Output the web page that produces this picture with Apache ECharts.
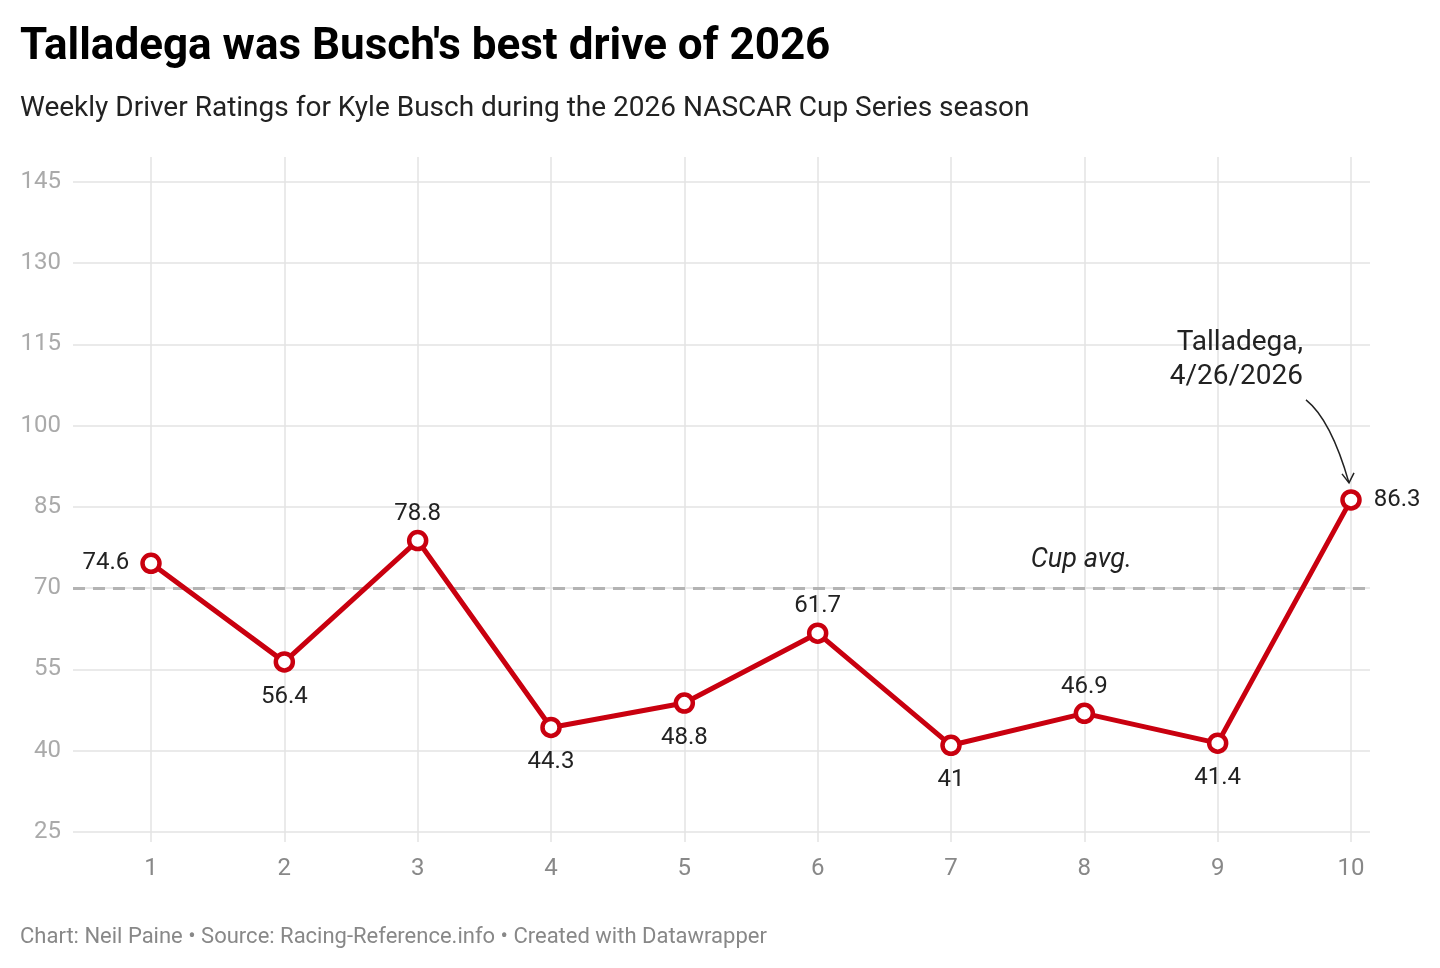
<!DOCTYPE html>
<html>
<head>
<meta charset="utf-8">
<script src="https://cdn.jsdelivr.net/npm/echarts@6/dist/echarts.min.js"></script>
<style>
  html, body { margin: 0; padding: 0; background: #fff; }
  #main { width: 1440px; height: 968px; }
</style>
</head>
<body>
<div id="main"></div>
<script>
/*数据*/
var races = [1, 2, 3, 4, 5, 6, 7, 8, 9, 10];
var ratings = [74.6, 56.4, 78.8, 44.3, 48.8, 61.7, 41, 46.9, 41.4, 86.3];
var yTicks = [25, 40, 55, 70, 85, 100, 115, 130, 145];
var cupAvg = 70;

/*标签位置*/
var labelPos = ['left', 'bottom', 'top', 'bottom', 'bottom', 'top', 'bottom', 'top', 'bottom', 'right'];
var labelDist = {left: 11, right: 12, top: 4, bottom: 12};

var red = '#c9000f';
var font = 'Roboto, "Noto Sans", sans-serif';

var chart = echarts.init(document.getElementById('main'));

var option = {
  backgroundColor: '#fff',
  animation: false,
  title: [{
    text: "Talladega was Busch's best drive of 2026",
    left: 15, top: 21,
    textStyle: {fontFamily: font, fontSize: 44, fontWeight: 'bold', color: '#000'}
  }, {
    text: 'Weekly Driver Ratings for Kyle Busch during the 2026 NASCAR Cup Series season',
    left: 15, top: 90,
    textStyle: {fontFamily: font, fontSize: 28, fontWeight: 'normal', color: '#222'}
  }, {
    text: 'Chart: Neil Paine • Source: Racing-Reference.info • Created with Datawrapper',
    left: 15, top: 921,
    textStyle: {fontFamily: font, fontSize: 22, fontWeight: 'normal', color: '#888'}
  }],
  grid: {left: 73, right: 70, top: 157, bottom: 126},
  xAxis: {
    type: 'value',
    min: 1 - 78 / 133.33,
    max: 10 + 19 / 133.33,
    axisLine: {show: false},
    axisTick: {show: false, customValues: races},
    axisLabel: {customValues: races, margin: 15, fontFamily: font, fontSize: 24, color: '#888'},
    splitLine: {show: true, lineStyle: {color: '#e3e3e3', width: 1.5}}
  },
  yAxis: {
    type: 'value',
    min: 23.15,
    max: 149.6,
    axisLine: {show: false},
    axisTick: {show: false, customValues: yTicks},
    axisLabel: {customValues: yTicks, margin: 12, padding: [4, 0, 0, 0], fontFamily: font, fontSize: 24, color: '#aaa'},
    splitLine: {show: true, lineStyle: {color: '#e3e3e3', width: 1.5}}
  },
  series: [{
    type: 'line',
    data: races.map(function (r, i) {
      return {
        value: [r, ratings[i]],
        label: {position: labelPos[i], distance: labelDist[labelPos[i]]}
      };
    }),
    lineStyle: {color: red, width: 5},
    symbol: 'circle',
    symbolSize: 17,
    itemStyle: {color: '#fff', borderColor: red, borderWidth: 4.5},
    label: {
      show: true,
      fontFamily: font, fontSize: 24, color: '#222',
      formatter: function (p) { return p.value[1]; }
    },
    z: 5,
    markLine: {
      silent: true,
      symbol: 'none',
      lineStyle: {color: '#b3b3b3', width: 3, type: [12, 8]},
      label: {show: false},
      data: [{yAxis: cupAvg}],
      z: 2
    }
  }]
};
chart.setOption(option);

/*注释*/
var p10 = chart.convertToPixel({gridIndex: 0}, [races[9], ratings[9]]);
var pAvg = chart.convertToPixel({gridIndex: 0}, [races[7], cupAvg]);
var ax = p10[0] - 2, ay = p10[1] - 17;
chart.setOption({
  graphic: [{
    type: 'text',
    x: pAvg[0] - 3, y: pAvg[1] - 28,
    style: {text: 'Cup avg.', font: 'italic 27px ' + font, fill: '#222', align: 'center', verticalAlign: 'middle'}
  }, {
    type: 'text',
    x: p10[0] - 48, y: p10[1] - 140,
    style: {text: 'Talladega,\n4/26/2026', font: '28px ' + font, fill: '#222', align: 'right', verticalAlign: 'middle', lineHeight: 34}
  }, {
    type: 'bezierCurve',
    shape: {x1: p10[0] - 45, y1: p10[1] - 100, cpx1: p10[0] - 20, cpy1: p10[1] - 80, x2: ax, y2: ay},
    style: {stroke: '#222', lineWidth: 1.5, fill: null}
  }, {
    type: 'polyline',
    shape: {points: [[ax - 7, ay - 9], [ax, ay], [ax + 5, ay - 10]]},
    style: {stroke: '#222', lineWidth: 1.5, fill: null}
  }]
});
</script>
</body>
</html>
